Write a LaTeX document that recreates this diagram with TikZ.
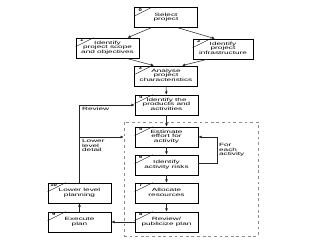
\documentclass[tikz,border=0pt]{standalone}
\usepackage{fontspec}
\setmainfont{Liberation Sans}
\usepackage{graphicx}
\usetikzlibrary{arrows.meta,calc}

% wide, squat lettering as in the scanned chart
\newcommand{\widetext}[2][c]{\scalebox{1.8}[1]{\begin{tabular}{@{}#1@{}}#2\end{tabular}}}

\tikzset{
  stepbox/.style={draw=black, line width=1pt, minimum width=3.15cm, minimum height=1cm,
    inner sep=0pt, font=\fontsize{6.5}{7}\selectfont},
  numlabel/.style={inner sep=0pt, font=\fontsize{6}{6}\selectfont\bfseries},
  sidetext/.style={inner sep=0pt, anchor=north west, font=\fontsize{6.5}{7}\selectfont},
  groupbox/.style={draw=black!45, line width=0.8pt, dash pattern=on 4pt off 4pt,
    minimum width=6.7cm, minimum height=5.7cm, inner sep=0pt},
  flow/.style={draw=black!85, line width=0.75pt, -{Latex[length=4.5pt, width=4pt]}}
}

\begin{document}
\begin{tikzpicture}[x=0.05cm,y=-0.05cm]
\useasboundingbox (0,0) rectangle (320,240);

% stepwise planning group
\node[groupbox] (grp) at (191,179) {};

\node[stepbox] (b0) at (166,17.5) {\widetext{Select\\project}};
\node[stepbox] (b1) at (107.5,48) {\widetext{Identify\\project scope\\and objectives}};
\node[stepbox, minimum width=3cm] (b2) at (223,49) {\widetext{Identify\\project\\infrastructure}};
\node[stepbox] (b3) at (166,76) {\widetext{Analyse\\project\\characteristics}};
\node[stepbox] (b4) at (166.5,105) {\widetext{Identify the\\products and\\activities}};
\node[stepbox] (b5) at (166.5,137) {\widetext{Estimate\\effort for\\activity}};
\node[stepbox] (b6) at (166.5,165) {\widetext{Identify\\activity risks}};
\node[stepbox] (b7) at (166.5,193) {\widetext{Allocate\\resources}};
\node[stepbox] (b8) at (166.5,222) {\widetext{Review/\\publicize plan}};
\node[stepbox] (b9) at (79.5,222) {\widetext{Execute\\plan}};
\node[stepbox] (b10) at (79.5,193) {\widetext{Lower level\\planning}};

% corner tags with step numbers
\foreach \b/\n in {b0/0,b1/1,b2/2,b3/3,b4/4,b5/5,b6/6,b7/7,b8/8,b9/9,b10/10} {
  \draw[black, line width=0.55pt] ($(\b.north west)+(0,9)$) -- ($(\b.north west)+(18,0)$);
  \node[numlabel] (n\n) at ($(\b.north west)+(6,2.8)$) {\scalebox{1.4}[1]{\n}};
}

\draw[flow] ($(b0.south)+(-15,0)$) -- ($(b1.north)+(20,0)$);
\draw[flow] ($(b0.south)+(12,0)$) -- ($(b2.north)+(-8,0)$);
\draw[flow] ($(b1.south)+(19,0)$) -- ($(b3.north)+(-12,0)$);
\draw[flow] ($(b2.south)+(-16,0)$) -- ($(b3.north)+(16,0)$);
\draw[flow] (b3) -- (b4);
\draw[flow] (b4) -- (b5);
\draw[flow] (b5) -- (b6);
\draw[flow] (b6) -- (b7);
\draw[flow] (b7) -- (b8);
\draw[flow] (b8) -- (b9);
\draw[flow] (b9) -- (b10);
\draw[flow] (b10.north) |- (b4.west);
\draw[flow] (b10.north |- b5.west) -- (grp.west |- b5.west);
\draw[flow] ($(b6.east)+(0,-2)$) -- ++(19,0) |- (b5.east);

\node[sidetext] (review) at (82,106.5) {\widetext[l]{Review}};
\node[sidetext] (detail) at (82,138.5) {\widetext[l]{Lower\\level\\detail}};
\node[sidetext] (each) at (219,142.5) {\widetext[l]{For\\each\\activity}};
\end{tikzpicture}
\end{document}
